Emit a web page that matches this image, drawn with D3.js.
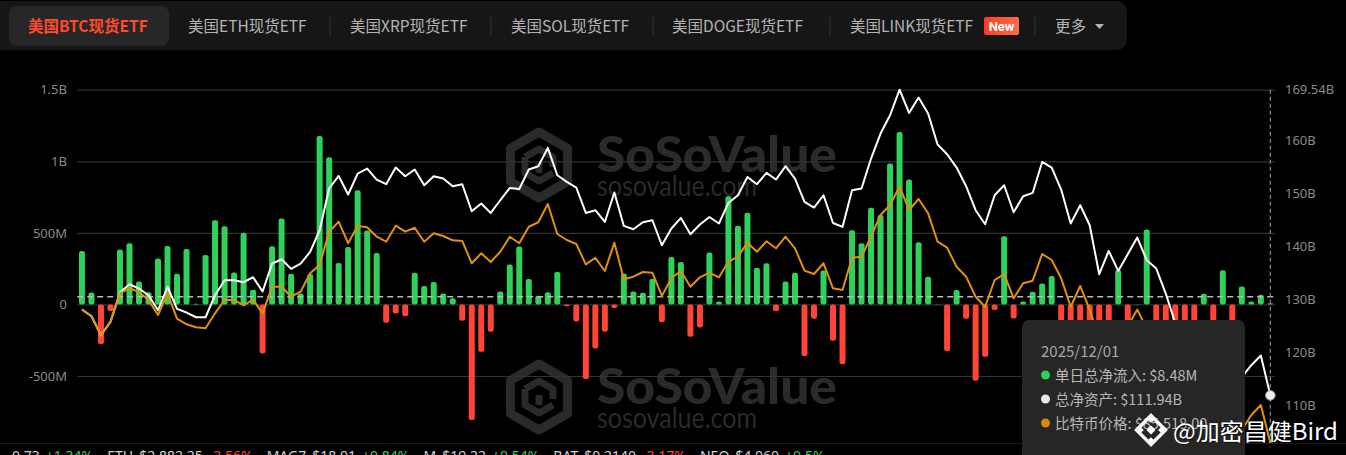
<!DOCTYPE html>
<html>
<head>
<meta charset="utf-8">
<script src="https://cdn.jsdelivr.net/npm/d3@7/dist/d3.min.js"></script>
<style>
  html, body { margin: 0; padding: 0; background: #000; }
  svg { display: block; font-family: "Noto Sans CJK SC", "Noto Sans", sans-serif; }
</style>
</head>
<body>
<svg id="chart" width="1346" height="455"></svg>
<script>
// ---------------- DATA ----------------
const tabs = ["美国BTC现货ETF", "美国ETH现货ETF", "美国XRP现货ETF", "美国SOL现货ETF", "美国DOGE现货ETF", "美国LINK现货ETF"];
const dates = [
  "2025/06/03","2025/06/04","2025/06/05","2025/06/06","2025/06/09","2025/06/10","2025/06/11","2025/06/12","2025/06/13","2025/06/16",
  "2025/06/17","2025/06/18","2025/06/20","2025/06/23","2025/06/24","2025/06/25","2025/06/26","2025/06/27","2025/06/30","2025/07/01",
  "2025/07/02","2025/07/03","2025/07/07","2025/07/08","2025/07/09","2025/07/10","2025/07/11","2025/07/14","2025/07/15","2025/07/16",
  "2025/07/17","2025/07/18","2025/07/21","2025/07/22","2025/07/23","2025/07/24","2025/07/25","2025/07/28","2025/07/29","2025/07/30",
  "2025/07/31","2025/08/01","2025/08/04","2025/08/05","2025/08/06","2025/08/07","2025/08/08","2025/08/11","2025/08/12","2025/08/13",
  "2025/08/14","2025/08/15","2025/08/18","2025/08/19","2025/08/20","2025/08/21","2025/08/22","2025/08/25","2025/08/26","2025/08/27",
  "2025/08/28","2025/08/29","2025/09/02","2025/09/03","2025/09/04","2025/09/05","2025/09/08","2025/09/09","2025/09/10","2025/09/11",
  "2025/09/12","2025/09/15","2025/09/16","2025/09/17","2025/09/18","2025/09/19","2025/09/22","2025/09/23","2025/09/24","2025/09/25",
  "2025/09/26","2025/09/29","2025/09/30","2025/10/01","2025/10/02","2025/10/03","2025/10/06","2025/10/07","2025/10/08","2025/10/09",
  "2025/10/10","2025/10/13","2025/10/14","2025/10/15","2025/10/16","2025/10/17","2025/10/20","2025/10/21","2025/10/22","2025/10/23",
  "2025/10/24","2025/10/27","2025/10/28","2025/10/29","2025/10/30","2025/10/31","2025/11/03","2025/11/04","2025/11/05","2025/11/06",
  "2025/11/07","2025/11/10","2025/11/11","2025/11/12","2025/11/13","2025/11/14","2025/11/17","2025/11/18","2025/11/19","2025/11/20",
  "2025/11/21","2025/11/24","2025/11/25","2025/11/26","2025/11/28","2025/12/01"
];
// daily total net inflow, $M
const netInflow = [
  374, 84, -277, -45, 384, 428, 160, 86, 321, 409,
  214, 388, 5, 346, 588, 547, 223, 500, 102, -342,
  407, 600, 214, 77, 212, 1177, 1028, 290, 402, 798,
  516, 360, -128, -63, -82, 221, 128, 156, 77, 44,
  -114, -808, -331, -191, 91, 279, 405, 177, 60, 86,
  226, -12, -119, -522, -307, -191, -24, 216, 91, 81,
  179, -124, 332, 297, -226, -161, 363, 21, 756, 549,
  640, 256, 288, -47, 160, 221, -361, -100, 237, -254,
  -417, 519, 428, 675, 624, 985, 1205, 873, 435, 193,
  -3, -326, 100, -100, -533, -366, -38, 477, -98, 21,
  88, 147, 198, -470, -488, -191, -187, -578, -137, 240,
  -558, 1, 524, -278, -866, -492, -255, -373, 75, -903,
  238, -151, 126, 21, 67, 8.48
];
// total net assets, $B
const totalAssets = [
  128.12, 126.85, 123.27, 125.78, 131.32, 132.88, 132.07, 130.81, 127.98, 132.37,
  128.23, 127.55, 126.66, 126.66, 130.81, 133.64, 133.64, 133.26, 134.20, 131.51,
  136.78, 137.59, 135.77, 136.78, 138.97, 143.06, 150.92, 153.29, 149.79, 153.74,
  154.68, 152.61, 151.73, 154.87, 153.23, 154.50, 151.54, 153.23, 152.80, 151.35,
  151.73, 146.64, 148.09, 146.32, 148.71, 151.03, 150.84, 154.50, 155.12, 158.57,
  153.42, 152.16, 151.10, 146.32, 146.83, 144.62, 150.16, 143.87, 143.25, 144.57,
  144.94, 140.23, 143.38, 145.38, 142.30, 144.13, 145.56, 144.32, 148.20, 149.65,
  153.10, 151.73, 153.86, 152.61, 155.12, 152.80, 148.39, 147.34, 149.65, 144.43,
  143.68, 150.60, 150.92, 156.57, 161.28, 164.73, 169.54, 165.16, 168.06, 165.05,
  159.21, 157.38, 154.87, 151.35, 146.83, 144.19, 149.65, 151.54, 146.45, 149.47,
  150.09, 155.93, 154.87, 150.73, 144.32, 147.77, 144.00, 134.77, 139.16, 135.39,
  138.54, 141.68, 137.41, 135.84, 131.13, 125.53, 124.00, 121.00, 122.00, 114.50,
  117.00, 116.50, 115.36, 117.62, 119.45, 111.94
];
// bitcoin price, $K
const btcPrice = [
  105.95, 104.93, 102.02, 104.06, 108.40, 109.17, 108.60, 107.38, 105.08, 108.40,
  104.52, 103.66, 103.20, 103.05, 105.34, 107.38, 107.38, 106.57, 107.42, 105.34,
  109.41, 109.41, 107.88, 108.65, 111.46, 112.73, 117.82, 119.35, 116.05, 118.69,
  118.49, 117.05, 116.29, 118.74, 117.82, 118.43, 116.29, 117.57, 117.16, 116.50,
  116.40, 112.99, 114.52, 113.19, 114.76, 117.05, 116.05, 118.58, 119.26, 122.05,
  117.47, 116.55, 115.94, 112.83, 113.84, 111.81, 116.14, 110.54, 110.94, 111.66,
  111.55, 108.01, 110.69, 111.81, 109.41, 110.85, 111.55, 110.85, 113.23, 114.00,
  116.14, 114.76, 116.35, 115.28, 117.05, 115.28, 111.86, 111.35, 112.99, 109.17,
  108.91, 113.84, 114.00, 117.05, 120.37, 121.90, 124.70, 121.14, 122.82, 120.63,
  116.29, 115.37, 112.47, 110.94, 107.88, 106.35, 110.43, 111.35, 107.64, 109.93,
  110.33, 114.41, 113.49, 110.69, 106.35, 109.52, 105.85, 101.50, 103.90, 101.30,
  103.40, 105.90, 103.00, 101.70, 99.70, 94.50, 92.20, 92.90, 91.50, 86.60,
  85.10, 88.30, 87.50, 89.79, 91.32, 85.518
];
const leftTicks = [-5e8, 0, 5e8, 1e9, 1.5e9];
const leftTickLabels = ["-500M", "0", "500M", "1B", "1.5B"];
const rightTicks = [110, 120, 130, 140, 150, 160, 169.54];
const rightTickLabels = ["110B", "120B", "130B", "140B", "150B", "160B", "169.54B"];
const tooltipLines = ["单日总净流入: $8.48M", "总净资产: $111.94B", "比特币价格: $85,518.00"];
const tickerItems = [
  ["0.73", "+1.34%"], ["ETH", "$2,882.25", "-2.56%"], ["MAG7", "$18.91", "+0.84%"],
  ["M", "$19.22", "+0.54%"], ["BAT", "$0.2140", "-3.17%"], ["NEO", "$4.060", "+0.5%"]
];

// ---------------- SETUP ----------------
const svg = d3.select("#chart");
const W = 1346, H = 455;
const plotTop = 89.7, plotBottom = 447.6, plotLeft = 77.2, plotRight = 1275.1;

const x = d3.scaleBand().domain(dates).range([plotLeft, plotRight]).paddingInner(0.37).paddingOuter(0.185);
const yL = d3.scaleLinear().domain([-1e9, 1.5e9]).range([plotBottom, plotTop]);
const yR = d3.scaleLinear().domain([102.1, 169.54]).range([plotBottom, plotTop]);
const yP = d3.scaleLinear().domain([84.81, 139.53]).range([plotBottom, plotTop]);
const cx = d => x(d) + x.bandwidth() / 2;

svg.append("rect").attr("width", W).attr("height", H).attr("fill", "#000");

// ---------------- TAB BAR ----------------
const tabG = svg.append("g");
tabG.append("rect").attr("x", -12).attr("y", 1).attr("width", 1139).attr("height", 49).attr("rx", 10).attr("fill", "#161616");
tabG.append("rect").attr("x", 9).attr("y", 6).attr("width", 160).attr("height", 40).attr("rx", 8).attr("fill", "#272727");
const tabX = [28, 188, 350, 511, 672, 850];
tabs.forEach((t, i) => {
  tabG.append("text").attr("x", tabX[i]).attr("y", 32)
    .attr("font-size", 15.5)
    .attr("font-weight", i === 0 ? 700 : 400)
    .attr("fill", i === 0 ? "#ff4a2b" : "#b4b4b4")
    .text(t);
});
[330, 491, 653, 830, 1035].forEach(sx => {
  tabG.append("line").attr("x1", sx).attr("x2", sx).attr("y1", 17).attr("y2", 36).attr("stroke", "#303030").attr("stroke-width", 1.2);
});
const grad = svg.append("defs").append("linearGradient").attr("id", "newg").attr("x1", 0).attr("x2", 1);
grad.append("stop").attr("offset", 0).attr("stop-color", "#ff3b1f");
grad.append("stop").attr("offset", 1).attr("stop-color", "#ff6d4a");
tabG.append("rect").attr("x", 984).attr("y", 17).attr("width", 35).attr("height", 18).attr("rx", 2).attr("fill", "url(#newg)");
tabG.append("text").attr("x", 1001.5).attr("y", 31).attr("text-anchor", "middle").attr("font-size", 13).attr("font-weight", 700)
  .attr("fill", "#fff").attr("font-family", "Roboto, sans-serif").text("New");
tabG.append("text").attr("x", 1055).attr("y", 32).attr("font-size", 15.5).attr("fill", "#b4b4b4").text("更多");
tabG.append("path").attr("d", "M1095,24 L1104,24 L1099.5,29 Z").attr("fill", "#b4b4b4");

// ---------------- WATERMARKS ----------------
function watermark(cyOff) {
  const g = svg.append("g").attr("transform", `translate(0,${cyOff})`);
  const c = "#2a2a2a";
  const hcx = 539, hcy = 165, r = 33;
  const pts = d3.range(6).map(k => {
    const a = Math.PI / 2 + k * Math.PI / 3;
    return [hcx + r * Math.cos(a), hcy - r * Math.sin(a)];
  });
  g.append("path").attr("d", "M" + pts.map(p => p.join(",")).join("L") + "Z")
    .attr("fill", "none").attr("stroke", c).attr("stroke-width", 9).attr("stroke-linejoin", "round");
  g.append("path").attr("d", `M${hcx-14},${hcy-8} L${hcx},${hcy-16} L${hcx+14},${hcy-8} L${hcx+14},${hcy+2} M${hcx-14},${hcy-8} L${hcx-14},${hcy+8} L${hcx},${hcy+16} L${hcx+14},${hcy+8} M${hcx},${hcy-2} L${hcx},${hcy+8}`)
    .attr("fill", "none").attr("stroke", c).attr("stroke-width", 7).attr("stroke-linejoin", "round");
  g.append("text").attr("x", 597).attr("y", 172).attr("font-family", "Lato, sans-serif").attr("font-weight", 900)
    .attr("font-size", 49).attr("fill", c).attr("textLength", 240).attr("lengthAdjust", "spacingAndGlyphs").text("SoSoValue");
  g.append("text").attr("x", 597).attr("y", 196).attr("font-family", "Lato, sans-serif").attr("font-weight", 400)
    .attr("font-size", 29).attr("fill", c).attr("textLength", 160).attr("lengthAdjust", "spacingAndGlyphs").text("sosovalue.com");
}
watermark(0);
watermark(232);

// ---------------- GRID & AXES ----------------
const gridG = svg.append("g").attr("transform", `translate(${plotLeft},0)`)
  .call(d3.axisLeft(yL).tickValues(leftTicks).tickSize(-(plotRight - plotLeft)).tickFormat(""));
gridG.select(".domain").remove();
gridG.selectAll(".tick line").attr("stroke", "#333").attr("stroke-width", 1.2);

const leftAxis = svg.append("g").attr("transform", `translate(67,0)`)
  .call(d3.axisLeft(yL).tickValues(leftTicks).tickSize(0).tickPadding(0)
    .tickFormat((d, i) => leftTickLabels[leftTicks.indexOf(d)]));
leftAxis.select(".domain").remove();
leftAxis.selectAll("text").attr("fill", "#8a8a8a").attr("font-size", 13).attr("font-family", "Noto Sans, sans-serif");

const rightAxis = svg.append("g").attr("transform", `translate(1285,0)`)
  .call(d3.axisRight(yR).tickValues(rightTicks).tickSize(0).tickPadding(0)
    .tickFormat(d => rightTickLabels[rightTicks.indexOf(d)]));
rightAxis.select(".domain").remove();
rightAxis.selectAll("text").attr("fill", "#8a8a8a").attr("font-size", 13).attr("font-family", "Noto Sans, sans-serif");

// ---------------- BARS ----------------
svg.append("g").selectAll("rect").data(dates).join("rect")
  .attr("x", d => x(d))
  .attr("width", x.bandwidth())
  .attr("y", (d, i) => yL(Math.max(0, netInflow[i] * 1e6)))
  .attr("height", (d, i) => Math.abs(yL(netInflow[i] * 1e6) - yL(0)))
  .attr("rx", 2.2)
  .attr("fill", (d, i) => netInflow[i] >= 0 ? "#2fd15a" : "#ff4438");

// crosshair
svg.append("line").attr("x1", plotLeft).attr("x2", plotRight).attr("y1", 296.7).attr("y2", 296.7)
  .attr("stroke", "#b9b9b9").attr("stroke-width", 1.5).attr("stroke-dasharray", "6,4");
svg.append("line").attr("x1", cx(dates[dates.length - 1])).attr("x2", cx(dates[dates.length - 1]))
  .attr("y1", plotTop).attr("y2", plotBottom)
  .attr("stroke", "#8a8a8a").attr("stroke-width", 1.2).attr("stroke-dasharray", "4,3");

// ---------------- LINES ----------------
const lineA = d3.line().x((d, i) => cx(dates[i])).y(d => yR(d));
svg.append("path").datum(totalAssets).attr("d", lineA).attr("fill", "none").attr("stroke", "#ffffff").attr("stroke-width", 2).attr("stroke-linejoin", "round");
const lineP = d3.line().x((d, i) => cx(dates[i])).y(d => yP(d));
svg.append("path").datum(btcPrice).attr("d", lineP).attr("fill", "none").attr("stroke", "#e0900c").attr("stroke-width", 2).attr("stroke-linejoin", "round");

svg.append("circle").attr("cx", cx(dates[dates.length - 1])).attr("cy", yR(totalAssets[totalAssets.length - 1]))
  .attr("r", 4.8).attr("fill", "#f0f0f0").attr("stroke", "#9a9a9a").attr("stroke-width", 1);

// ---------------- BOTTOM TICKER ----------------
svg.append("line").attr("x1", 0).attr("x2", W).attr("y1", 443.5).attr("y2", 443.5).attr("stroke", "#1c1c1c").attr("stroke-width", 1);
const tk = svg.append("text").attr("x", -2).attr("y", 461).attr("font-size", 14).attr("font-family", "Noto Sans, sans-serif");
tickerItems.forEach(item => {
  item.forEach((s, j) => {
    const col = s.startsWith("+") ? "#2fd15a" : s.startsWith("-") ? "#ff4438" : "#d0d0d0";
    tk.append("tspan").attr("fill", col).attr("dx", j === 0 ? 14 : 6).text(s);
  });
});

// ---------------- TOOLTIP ----------------
const lastDate = dates[dates.length - 1];
const tip = svg.append("g");
tip.append("rect").attr("x", 1022).attr("y", 320).attr("width", 223).attr("height", 150).attr("rx", 7)
  .attr("fill", "#262626");
tip.append("text").attr("x", 1041).attr("y", 357).attr("font-size", 15).attr("fill", "#a8a8a8").text(lastDate);
const dotColors = ["#2fd15a", "#e8e8e8", "#d68a0c"];
tooltipLines.forEach((t, i) => {
  const yy = 375 + i * 24;
  tip.append("circle").attr("cx", 1045.5).attr("cy", yy).attr("r", 4.5).attr("fill", dotColors[i]);
  tip.append("text").attr("x", 1055).attr("y", yy + 6).attr("font-size", 14.5).attr("fill", "#b8b8b8").text(t);
});

// ---------------- AUTHOR WATERMARK ----------------
const wm = svg.append("g");
const dcx = 1151, dcy = 430;
const dm = s => `M${dcx},${dcy - s} L${dcx + s},${dcy} L${dcx},${dcy + s} L${dcx - s},${dcy} Z`;
wm.append("path").attr("d", dm(14.5)).attr("fill", "none").attr("stroke", "#ffffff").attr("stroke-width", 3.4).attr("opacity", 0.95);
wm.append("path").attr("d", dm(4.5)).attr("fill", "#ffffff");
[[-10, 0], [10, 0], [0, -10], [0, 10]].forEach(o => {
  wm.append("path").attr("d", `M${dcx + o[0]},${dcy + o[1] - 2.8} L${dcx + o[0] + 2.8},${dcy + o[1]} L${dcx + o[0]},${dcy + o[1] + 2.8} L${dcx + o[0] - 2.8},${dcy + o[1]} Z`).attr("fill", "#fff");
});
wm.append("text").attr("x", 1173).attr("y", 440).attr("font-size", 23).attr("fill", "#000").attr("opacity", 0.6)
  .attr("transform", "translate(1,1)").attr("textLength", 165).attr("lengthAdjust", "spacingAndGlyphs").text("@加密昌健Bird");
wm.append("text").attr("x", 1173).attr("y", 440).attr("font-size", 23).attr("fill", "#ffffff")
  .attr("textLength", 165).attr("lengthAdjust", "spacingAndGlyphs").text("@加密昌健Bird");
</script>
</body>
</html>
